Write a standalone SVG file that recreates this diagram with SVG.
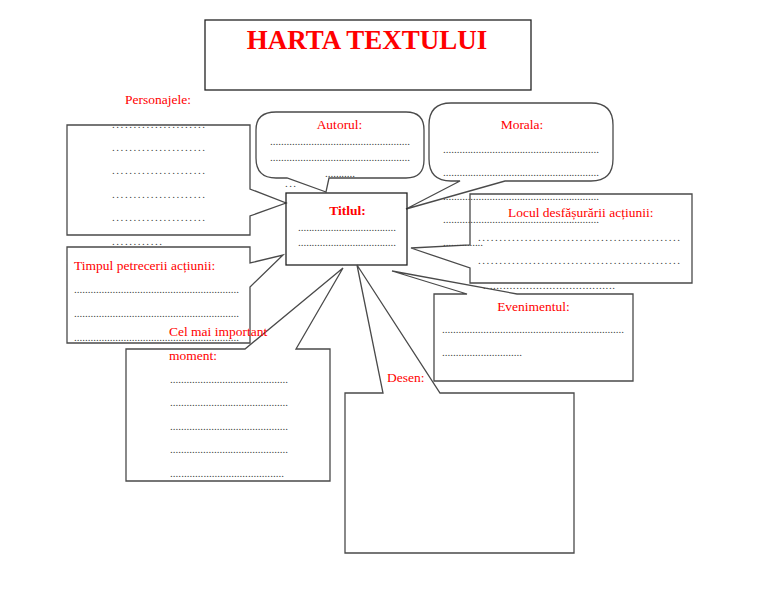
<svg xmlns="http://www.w3.org/2000/svg" width="768" height="594" viewBox="0 0 768 594">
<style>
.box{fill:none;stroke:#4a4a4a;stroke-width:1.3;stroke-linejoin:miter}
.dark{fill:none;stroke:#222;stroke-width:1.3}
.lbl{font-family:"Liberation Serif","Times New Roman",serif;font-size:13.5px;fill:#ff0000}
.b{font-weight:bold}
.d{font-family:"Liberation Serif","Times New Roman",serif;font-size:11px;fill:#444}
</style>
<rect x="0" y="0" width="768" height="594" fill="#ffffff"/>
<g id="connectors"></g>
<g id="title">
<rect class="dark" x="205" y="20" width="326" height="70"/>
<text x="367" y="49" text-anchor="middle" style="font-family:'Liberation Serif','Times New Roman',serif;font-size:27px;font-weight:bold;fill:#ff0000">HARTA TEXTULUI</text>
</g>
<g id="locul">
<path class="box" d="M470,194 H692 V283 H470 V268 L411,248 L470,245 Z"/>
<text class="lbl" x="508" y="217">Locul desfășurării acțiunii:</text>
<text class="d" x="478" y="241" textLength="202" lengthAdjust="spacing">................................................</text>
<text class="d" x="478" y="264" textLength="202" lengthAdjust="spacing">................................................</text>
</g>
<g id="personajele">
<path class="box" d="M67,125 H250 V189 L286,203 L250,216 V235 H67 Z"/>
<text class="lbl" x="125" y="104">Personajele:</text>
<text class="d" x="112" y="128" textLength="93" lengthAdjust="spacing">......................</text>
<text class="d" x="112" y="151" textLength="93" lengthAdjust="spacing">......................</text>
<text class="d" x="112" y="174" textLength="93" lengthAdjust="spacing">......................</text>
<text class="d" x="112" y="198" textLength="93" lengthAdjust="spacing">......................</text>
<text class="d" x="112" y="221" textLength="93" lengthAdjust="spacing">......................</text>
<text class="d" x="112" y="245" textLength="50" lengthAdjust="spacing">............</text>
</g>
<g id="autorul">
<path class="box" d="M276,112 H406 Q424,112 424,130 V160 Q424,178 406,178 H329 L326,192 L287,178 H276 Q256,178 256,158 V130 Q256,112 276,112 Z"/>
<text class="lbl" x="339.5" y="129" text-anchor="middle">Autorul:</text>
<text class="d" x="270" y="145" textLength="140" lengthAdjust="spacing">...................................................</text>
<text class="d" x="270" y="161" textLength="140" lengthAdjust="spacing">...................................................</text>
<text class="d" x="325" y="177" textLength="30" lengthAdjust="spacing">...........</text>
<text class="d" x="285" y="187" textLength="11" lengthAdjust="spacing">...</text>
</g>
<g id="morala">
<path class="box" d="M451,103 H591 Q613,103 613,125 V159 Q613,181 591,181 H505 L406,209 L460,181 H451 Q429,181 429,159 V125 Q429,103 451,103 Z"/>
<text class="lbl" x="522" y="129" text-anchor="middle">Morala:</text>
<text class="d" x="443" y="153" textLength="156" lengthAdjust="spacing">.........................................................</text>
<text class="d" x="443" y="176" textLength="156" lengthAdjust="spacing">.........................................................</text>
<text class="d" x="443" y="200" textLength="156" lengthAdjust="spacing">.........................................................</text>
<text class="d" x="443" y="223" textLength="156" lengthAdjust="spacing">.........................................................</text>
<text class="d" x="443" y="246" textLength="40" lengthAdjust="spacing">...............</text>
<text class="d" x="483" y="289" textLength="132" lengthAdjust="spacing">........................................</text>
</g>
<g id="titlul">
<rect class="dark" x="286" y="193" width="121" height="72"/>
<text class="lbl b" x="347.5" y="215" text-anchor="middle">Titlul:</text>
<text class="d" x="298" y="231" textLength="98" lengthAdjust="spacing">....................................</text>
<text class="d" x="298" y="246" textLength="98" lengthAdjust="spacing">....................................</text>
</g>
<g id="timpul">
<path class="box" d="M67,247 H250 V263 L283,255 L250,287 V343 H67 Z"/>
<text class="lbl" x="74" y="270">Timpul petrecerii acțiunii:</text>
<text class="d" x="74" y="293" textLength="165" lengthAdjust="spacing">............................................................</text>
<text class="d" x="74" y="317" textLength="165" lengthAdjust="spacing">............................................................</text>
<text class="d" x="74" y="341" textLength="165" lengthAdjust="spacing">............................................................</text>
</g>
<g id="evenimentul">
<path class="box" d="M434,294 H467 L392,271 L517,294 H633 V381 H434 Z"/>
<text class="lbl" x="533.5" y="311" text-anchor="middle">Evenimentul:</text>
<text class="d" x="442" y="333" textLength="182" lengthAdjust="spacing">..................................................................</text>
<text class="d" x="442" y="356" textLength="80" lengthAdjust="spacing">.............................</text>
</g>
<g id="cel-mai-important">
<path class="box" d="M126,349 H245 L343,268 L296,349 H330 V481 H126 Z"/>
<text class="lbl" x="169" y="336">Cel mai important</text>
<text class="lbl" x="169" y="360">moment:</text>
<text class="d" x="170" y="383" textLength="118" lengthAdjust="spacing">...........................................</text>
<text class="d" x="170" y="406" textLength="118" lengthAdjust="spacing">...........................................</text>
<text class="d" x="170" y="430" textLength="118" lengthAdjust="spacing">...........................................</text>
<text class="d" x="170" y="453" textLength="118" lengthAdjust="spacing">...........................................</text>
<text class="d" x="170" y="477" textLength="114" lengthAdjust="spacing">.........................................</text>
</g>
<g id="desen">
<path class="box" d="M345,393 H383 L357,265 L440,393 H574 V553 H345 Z"/>
<text class="lbl" x="387" y="382">Desen:</text>
</g>
</svg>
